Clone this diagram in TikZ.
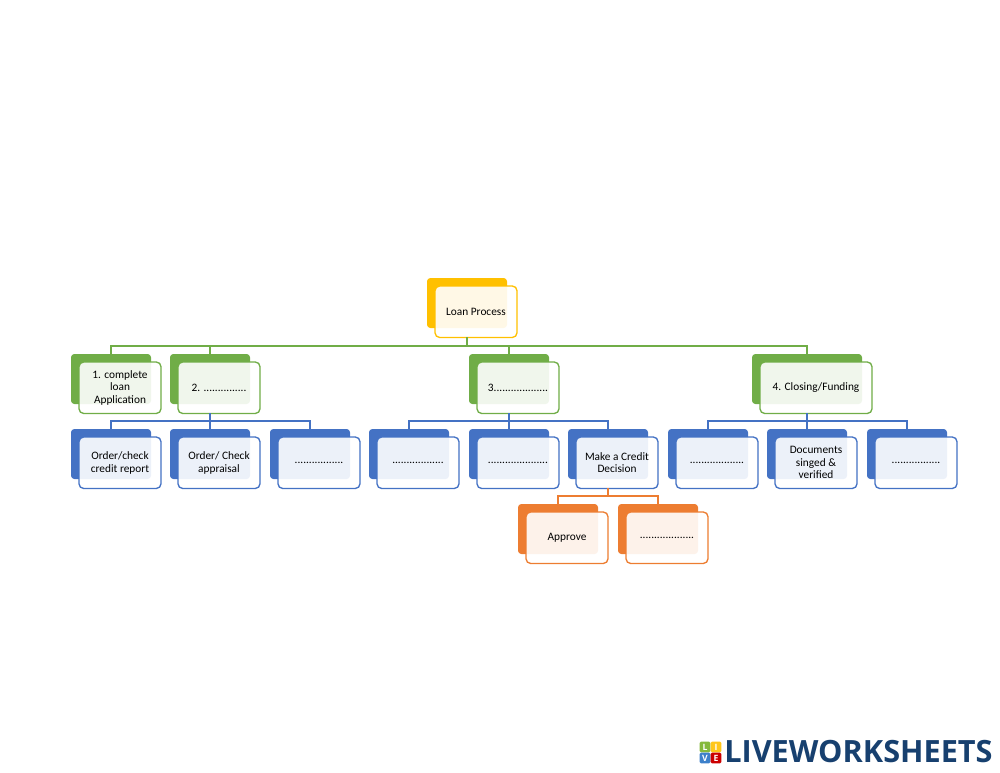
\documentclass[tikz,border=0pt]{standalone}
\usepackage{fontspec}
\setmainfont{Carlito}
\newfontfamily\logofont{Open Sans}
\usepackage{xcolor}
\usetikzlibrary{calc}
\definecolor{cardgreen}{HTML}{70AD47}
\definecolor{cardblue}{HTML}{4472C4}
\definecolor{cardorange}{HTML}{ED7D31}
\definecolor{cardgold}{HTML}{FFC000}
\definecolor{logoblue}{HTML}{17406F}
\tikzset{
	backcard/.style={rounded corners=2.5pt, minimum height=37.5pt, outer sep=0pt, inner sep=0pt},
	frontcard/.style={rounded corners=3.5pt, minimum height=38.6pt, outer sep=0pt, inner sep=0pt, line width=1pt, fill=white, fill opacity=0.9, text opacity=1, align=center, font=\fontsize{8.5}{9.4}\selectfont},
	busline/.style={line width=0.8pt},
	logotile/.style={minimum size=8pt, inner sep=0pt, outer sep=0pt, rounded corners=1pt, text=white, font=\logofont\bfseries\fontsize{6.5}{7}\selectfont}
}
% back card, then front card: name, left x, top y, back width, colour, text
\newcommand{\cardpair}[6]{%
	\node[backcard, fill=#5, minimum width=#4pt, anchor=north west] (#1back) at (#2,#3) {};%
	\node[frontcard, draw=#5, minimum width=#4pt+1.5pt, anchor=north west] (#1) at (#2+8,#3+8) {#6};%
}
\begin{document}
\begin{tikzpicture}[x=0.75pt,y=-0.75pt]
	\useasboundingbox (0,0) rectangle (1000,772);
	\cardpair{loan}{427}{278}{60}{cardgold}{Loan Process}
	\foreach \nm/\px/\cw/\tx in {stepone/71/60/{1. complete\\loan\\Application},
		steptwo/170/60/{2. ...............},
		stepthree/469/60/{3...................},
		stepfour/752/82.5/{4. Closing/Funding}}
		{\cardpair{\nm}{\px}{354}{\cw}{cardgreen}{\tx}}
	\foreach \nm/\px/\tx in {credit/71/{Order/check\\credit report},
		appraisal/170/{Order/ Check\\appraisal},
		blanka/270/{.................},
		blankb/369/{..................},
		blankc/469/{.....................},
		decision/568/{Make a Credit\\Decision},
		blankd/668/{...................},
		documents/767/{Documents\\singed \&\\verified},
		blanke/867/{.................}}
		{\cardpair{\nm}{\px}{429}{60}{cardblue}{\tx}}
	\foreach \nm/\px/\tx in {approve/518/{Approve},
		blankf/618/{...................}}
		{\cardpair{\nm}{\px}{504}{60}{cardorange}{\tx}}
	% connectors
	\coordinate (topbus) at (0,346);
	\coordinate (midbus) at (0,421);
	\coordinate (lowbus) at (0,496);
	\foreach \kid in {stepone,steptwo,stepthree,stepfour}
		\draw[busline,cardgreen] (loanback.south |- loan.south) -- (loanback.south |- topbus) -| (\kid back.north);
	\foreach \up/\kid in {steptwo/credit,steptwo/appraisal,steptwo/blanka,
		stepthree/blankb,stepthree/blankc,stepthree/decision,
		stepfour/blankd,stepfour/documents,stepfour/blanke}
		\draw[busline,cardblue] (\up back.south |- \up.south) -- (\up back.south |- midbus) -| (\kid back.north);
	\foreach \kid in {approve,blankf}
		\draw[busline,cardorange] (decisionback.south |- decision.south) -- (decisionback.south |- lowbus) -| (\kid back.north);
	% logo
	\node[logotile,fill=cardgreen!85!yellow] (tilel) at (705,747) {L};
	\node[logotile,fill=cardgold!90!white] (tilei) at (716,747) {I};
	\node[logotile,fill=cardblue!90!cyan] (tilev) at (705,758) {V};
	\node[logotile,fill=red!80!black] (tilee) at (716,758) {E};
	\node[anchor=west,inner sep=0pt,text=logoblue,font=\logofont\bfseries\fontsize{23}{24}\selectfont] (logo) at (724,751.5) {LIVEWORKSHEETS};
\end{tikzpicture}
\end{document}
